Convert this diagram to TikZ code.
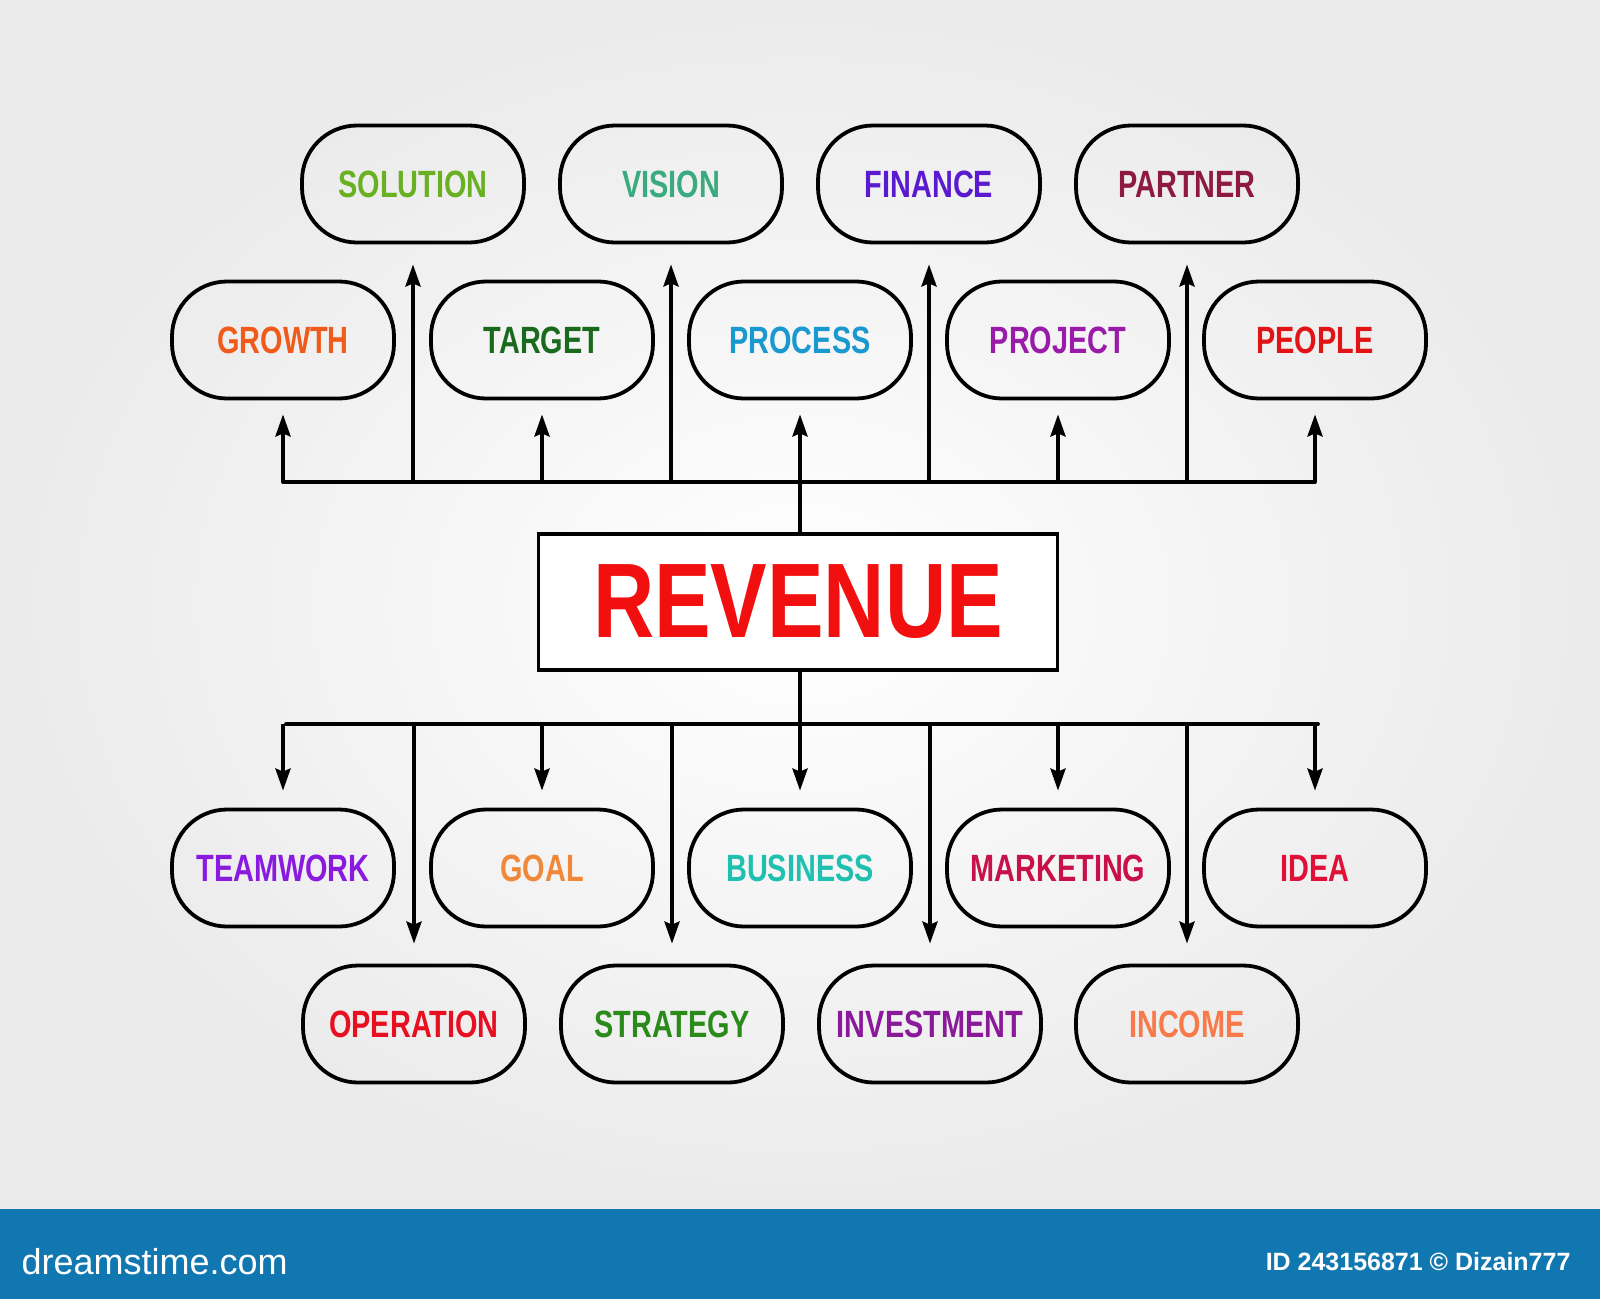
\documentclass[tikz,border=0pt]{standalone}
\usepackage{fontspec}
\setmainfont{Liberation Sans}
\newfontfamily\lblfont{Liberation Sans}[FakeStretch=0.76]
\newfontfamily\revfont{Liberation Sans}[FakeStretch=0.8]
\newfontfamily\barfont{Liberation Sans}
\usetikzlibrary{arrows.meta,shadings}
\definecolor{cSolution}{HTML}{6AB023}
\definecolor{cVision}{HTML}{3AAA80}
\definecolor{cFinance}{HTML}{5A1AD0}
\definecolor{cPartner}{HTML}{8E1A40}
\definecolor{cGrowth}{HTML}{F05A1A}
\definecolor{cTarget}{HTML}{1A6A1E}
\definecolor{cProcess}{HTML}{1A98D0}
\definecolor{cProject}{HTML}{9A1AAA}
\definecolor{cPeople}{HTML}{E01414}
\definecolor{cTeamwork}{HTML}{8A1AE0}
\definecolor{cGoal}{HTML}{F0883A}
\definecolor{cBusiness}{HTML}{20C0B0}
\definecolor{cMarketing}{HTML}{C8104A}
\definecolor{cIdea}{HTML}{E01038}
\definecolor{cOperation}{HTML}{E81020}
\definecolor{cStrategy}{HTML}{2A8A1A}
\definecolor{cInvestment}{HTML}{8A1A9A}
\definecolor{cIncome}{HTML}{F87A4A}
\definecolor{cRevenue}{HTML}{F20F0F}
\definecolor{barblue}{HTML}{1177B0}
\tikzset{
  pill/.style={draw=black, line width=3.8pt, rounded corners=55pt, minimum width=222pt, minimum height=117pt, inner sep=0pt, font=\lblfont\bfseries\fontsize{38}{44}\selectfont},
  revbox/.style={draw=black, fill=white, line width=3.8pt, minimum width=519pt, minimum height=136pt, inner sep=0pt, text=cRevenue, font=\revfont\bfseries\fontsize{106}{110}\selectfont},
  conn/.style={line width=3.8pt},
  arr/.style={line width=3.8pt, -{Stealth[length=22pt,width=15pt,inset=3pt]}},
}
\begin{document}
\begin{tikzpicture}[x=1pt,y=-1pt]
\useasboundingbox (0,0) rectangle (1600,1299);
\shade[inner color=white, outer color=black!8] (0,0) rectangle (1600,1209);
\fill[barblue] (0,1209) rectangle (1600,1299);
\node[anchor=west, text=white, font=\barfont\fontsize{36}{40}\selectfont] (brand) at (18,1262) {dreamstime.com};
\node[anchor=east, text=white, font=\barfont\bfseries\fontsize{25}{28}\selectfont] (credit) at (1574,1262) {ID 243156871 © Dizain777};

% central box
\node[revbox] (rev) at (798,602) {REVENUE};

% row 1
\node[pill, text=cSolution] (solution) at (413,184) {SOLUTION};
\node[pill, text=cVision] (vision) at (671,184) {VISION};
\node[pill, text=cFinance] (finance) at (929,184) {FINANCE};
\node[pill, text=cPartner] (partner) at (1187,184) {PARTNER};
% row 2
\node[pill, text=cGrowth] (growth) at (283,340) {GROWTH};
\node[pill, text=cTarget] (target) at (542,340) {TARGET};
\node[pill, text=cProcess] (process) at (800,340) {PROCESS};
\node[pill, text=cProject] (project) at (1058,340) {PROJECT};
\node[pill, text=cPeople] (people) at (1315,340) {PEOPLE};
% row 3
\node[pill, text=cTeamwork] (teamwork) at (283,868) {TEAMWORK};
\node[pill, text=cGoal] (goal) at (542,868) {GOAL};
\node[pill, text=cBusiness] (business) at (800,868) {BUSINESS};
\node[pill, text=cMarketing] (marketing) at (1058,868) {MARKETING};
\node[pill, text=cIdea] (idea) at (1315,868) {IDEA};
% row 4
\node[pill, text=cOperation] (operation) at (414,1024) {OPERATION};
\node[pill, text=cStrategy] (strategy) at (672,1024) {STRATEGY};
\node[pill, text=cInvestment] (investment) at (930,1024) {INVESTMENT};
\node[pill, text=cIncome] (income) at (1187,1024) {INCOME};

% top bus
\coordinate (tc) at (800,482);
\coordinate (tl) at (283,482);
\coordinate (tr) at (1315,482);
\draw[conn, line cap=round] (tl) -- (tr);
\draw[conn] (tc) -- (tc |- rev.north);
\foreach \n in {growth,target,process,project,people}{
  \draw[arr, shorten >=14pt] (\n.south |- tc) -- (\n.south);
}
\foreach \n in {solution,vision,finance,partner}{
  \draw[arr, shorten >=20pt] (\n.south |- tc) -- (\n.south);
}

% bottom bus
\coordinate (bc) at (800,724);
\coordinate (bl) at (286,724);
\coordinate (br) at (1318,724);
\draw[conn, line cap=round] (bl) -- (br);
\draw[conn] (bc |- rev.south) -- (bc);
\foreach \n in {teamwork,goal,business,marketing,idea}{
  \draw[arr, shorten >=17pt] (\n.north |- bc) -- (\n.north);
}
\foreach \n in {operation,strategy,investment,income}{
  \draw[arr, shorten >=20pt] (\n.north |- bc) -- (\n.north);
}
\end{tikzpicture}
\end{document}
